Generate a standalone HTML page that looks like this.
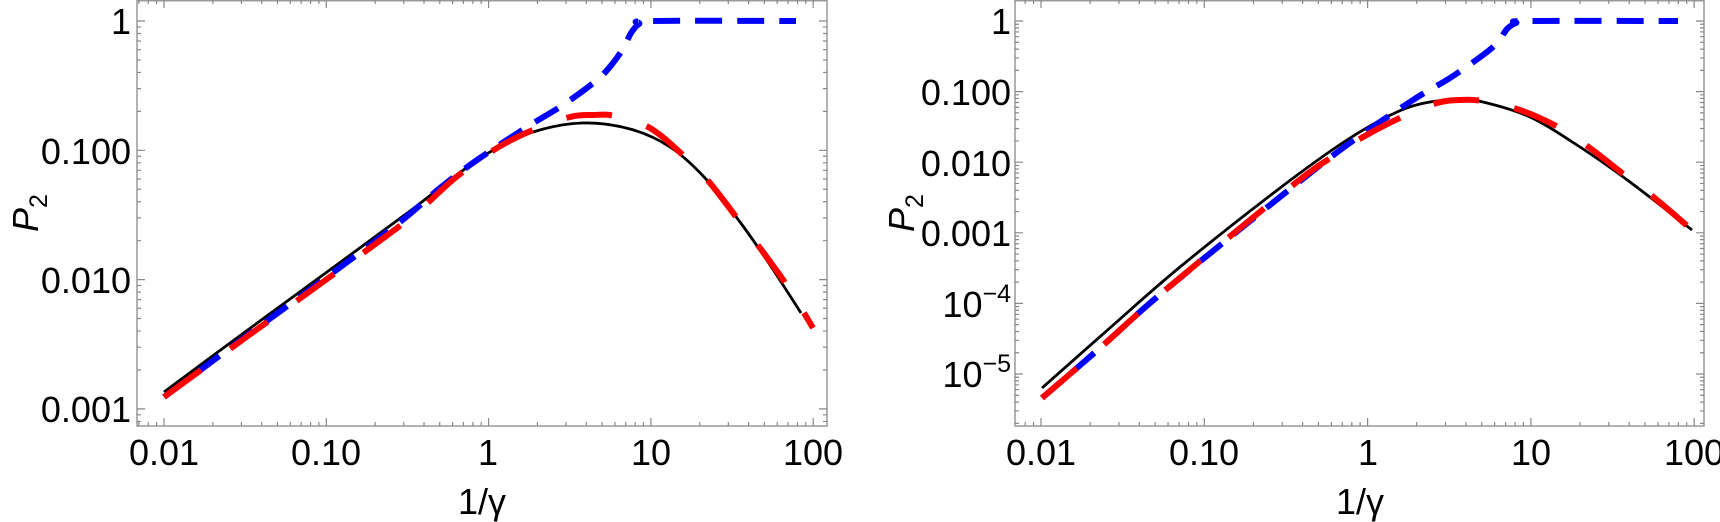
<!DOCTYPE html>
<html><head><meta charset="utf-8"><style>
html,body{margin:0;padding:0;background:#fff;}
svg{display:block;}
text{font-family:"Liberation Sans",sans-serif;fill:#000;}
</style></head><body>
<svg id="s" width="1720" height="522" viewBox="0 0 1720 522" xmlns="http://www.w3.org/2000/svg">
<g font-size="36">
<text x="131" y="34" text-anchor="end">1</text>
<text x="131" y="164" text-anchor="end">0.100</text>
<text x="131" y="293" text-anchor="end">0.010</text>
<text x="131" y="422" text-anchor="end">0.001</text>
<text x="164" y="465" text-anchor="middle">0.01</text>
<text x="326" y="465" text-anchor="middle">0.10</text>
<text x="488" y="465" text-anchor="middle">1</text>
<text x="651" y="465" text-anchor="middle">10</text>
<text x="813" y="465" text-anchor="middle">100</text>
<text x="482" y="514" text-anchor="middle">1/γ</text>
<text transform="translate(38,232) rotate(-90)" font-style="italic">P<tspan font-size="25" font-style="normal" dy="9">2</tspan></text>

<text x="1011" y="34" text-anchor="end">1</text>
<text x="1011" y="105" text-anchor="end">0.100</text>
<text x="1011" y="176" text-anchor="end">0.010</text>
<text x="1011" y="246" text-anchor="end">0.001</text>
<text x="1011" y="317" text-anchor="end"><tspan>10</tspan><tspan font-size="25" dy="-15">−4</tspan></text>
<text x="1011" y="387" text-anchor="end"><tspan>10</tspan><tspan font-size="25" dy="-15">−5</tspan></text>
<text x="1041" y="465" text-anchor="middle">0.01</text>
<text x="1204" y="465" text-anchor="middle">0.10</text>
<text x="1368" y="465" text-anchor="middle">1</text>
<text x="1531" y="465" text-anchor="middle">10</text>
<text x="1694" y="465" text-anchor="middle">100</text>
<text x="1360" y="514" text-anchor="middle">1/γ</text>
<text transform="translate(914,232) rotate(-90)" font-style="italic">P<tspan font-size="25" font-style="normal" dy="9">2</tspan></text>
</g>
<g id="ax"></g>
<g id="cv" fill="none" stroke-linecap="butt"></g>
</svg>
<script>
var NS="http://www.w3.org/2000/svg";
function el(p,t,a){var e=document.createElementNS(NS,t);for(var k in a)e.setAttribute(k,a[k]);p.appendChild(e);return e;}
var ax=document.getElementById('ax'),cv=document.getElementById('cv');
function frame(L,R,T,B,x0,xd,y0,yd){
  el(ax,'rect',{x:L,y:T+0.75,width:R-L,height:B-T-0.75,fill:'none',stroke:'#999','stroke-width':1.5});
  var d='';
  for(var e=-3;e<=2;e++)for(var m=1;m<=9;m++){
    var px=x0+xd*(e+2+Math.log10(m));
    if(px<=L+1||px>=R-1)continue;
    var len=m==1?8:4;
    d+='M'+px+' '+B+'v'+(-len)+'M'+px+' '+T+'v'+len;
  }
  for(var e=-7;e<=1;e++)for(var m=1;m<=9;m++){
    var py=y0-yd*(e+Math.log10(m));
    if(py<=T+1||py>=B-1)continue;
    var len=m==1?8:4;
    d+='M'+L+' '+py+'h'+len+'M'+R+' '+py+'h'+(-len);
  }
  el(ax,'path',{d:d,stroke:'#888','stroke-width':1.2,fill:'none'});
}
frame(137,827,0,426,164,162.3,21,129.3);
frame(1015,1704,0,426,1041,163.3,21,70.6);
function cr(p){var d='M'+p[0][0]+' '+p[0][1];
  for(var i=0;i<p.length-1;i++){var a=p[Math.max(i-1,0)],b=p[i],c=p[i+1],e=p[Math.min(i+2,p.length-1)];
    d+='C'+(b[0]+(c[0]-a[0])/6)+' '+(b[1]+(c[1]-a[1])/6)+' '+(c[0]-(e[0]-b[0])/6)+' '+(c[1]-(e[1]-b[1])/6)+' '+c[0]+' '+c[1];}
  return d;}
function line(p,col,w,da){var a={d:cr(p),stroke:col,'stroke-width':w};if(da)a['stroke-dasharray']=da;el(cv,'path',a);}
// left
line([[164,392],[245,332],[327,272],[410,211],[450,180],[490,152],[533,132],[582,123],[630,129],[670,147],[705,178],[740,222],[770,265],[801,313]],'#000',2.8);
line([[164,397],[245,337],[327,277],[400,222],[440,188],[477,160],[527,127],[563,105],[597,80],[613,63],[624,47],[631,33],[639,24],[650,21],[796,21]],'#00f',6,'27 15');
line([[164,397],[245,338],[327,279],[410,218],[455,178],[497,148],[533,130],[570,117],[593,115],[615,116],[650,128],[685,157],[710,183],[740,222],[760,248],[788,287],[813,328]],'#f00',6,'46 36');
// right
line([[1042,388],[1111,327],[1180,267],[1280,188],[1347,140],[1397,112],[1430,102],[1460,100],[1483,102],[1530,117],[1580,147],[1630,182],[1692,230]],'#000',2.8);
line([[1042,398],[1100,348],[1163,292],[1280,197],[1347,145],[1413,100],[1450,78],[1483,55],[1498,42],[1507,29],[1516,23],[1528,21],[1678,21]],'#00f',6,'27 15');
line([[1042,398],[1100,348],[1163,292],[1293,185],[1332,157],[1363,137],[1402,117],[1437,103],[1460,100],[1482,101],[1520,110],[1560,128],[1590,148],[1627,177],[1657,200],[1692,230]],'#f00',6,'46 36');
</script>
</body></html>
